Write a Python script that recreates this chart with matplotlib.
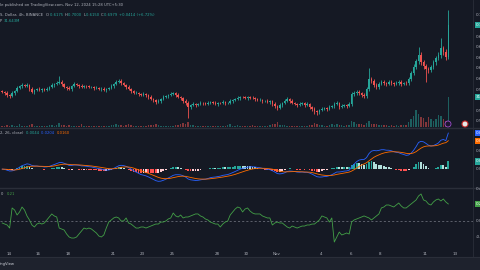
import numpy as np
import pandas as pd
import matplotlib
matplotlib.use('Agg')
import matplotlib.pyplot as plt
import matplotlib.dates as mdates
import matplotlib.transforms as mtrans
from matplotlib.patches import Rectangle, Circle

# ---------------- data ----------------
n_candles = 181
last_bar = '2024-11-12 13:30'
first_open = 0.5770
closes = [
    0.5754, 0.5735, 0.5697, 0.5678, 0.5735, 0.5773, 0.5829, 0.5867, 0.5886, 0.5860, 0.5889,
    0.5811, 0.5754, 0.5792, 0.5815, 0.5788, 0.5811, 0.5785, 0.5818, 0.5848, 0.5886,
    0.5905, 0.5924, 0.5943, 0.5905, 0.5848, 0.5829, 0.5805, 0.5867, 0.5905, 0.5880,
    0.5867, 0.5845, 0.5872, 0.5860, 0.5848, 0.5855, 0.5829, 0.5835, 0.5811, 0.5820,
    0.5792, 0.5811, 0.5829, 0.5867, 0.5905, 0.5943, 0.5962, 0.5924, 0.5886, 0.5848,
    0.5811, 0.5773, 0.5735, 0.5740, 0.5716, 0.5697, 0.5720, 0.5697, 0.5660, 0.5622,
    0.5603, 0.5565, 0.5584, 0.5622, 0.5660, 0.5678, 0.5697, 0.5716, 0.5735, 0.5697,
    0.5660, 0.5641, 0.5584, 0.5546, 0.5471, 0.5509, 0.5528, 0.5509, 0.5528, 0.5546,
    0.5540, 0.5528, 0.5550, 0.5565, 0.5546, 0.5528, 0.5546, 0.5540, 0.5565, 0.5546,
    0.5550, 0.5584, 0.5603, 0.5622, 0.5641, 0.5660, 0.5655, 0.5641, 0.5660, 0.5650,
    0.5641, 0.5622, 0.5603, 0.5610, 0.5584, 0.5590, 0.5565, 0.5584, 0.5528, 0.5490,
    0.5452, 0.5509, 0.5546, 0.5584, 0.5622, 0.5584, 0.5546, 0.5528, 0.5509, 0.5528,
    0.5546, 0.5509, 0.5528, 0.5471, 0.5433, 0.5395, 0.5377, 0.5414, 0.5433, 0.5452,
    0.5433, 0.5471, 0.5490, 0.5528, 0.5546, 0.5471, 0.5490, 0.5509, 0.5490, 0.5528,
    0.5716, 0.5735, 0.5754, 0.5735, 0.5697, 0.5678, 0.5811, 0.5999, 0.5962, 0.5886,
    0.5848, 0.5905, 0.5943, 0.5924, 0.5905, 0.5943, 0.5924, 0.5905, 0.5924, 0.5943,
    0.5905, 0.5924, 0.5915, 0.5999, 0.6112, 0.6226, 0.6339, 0.6452, 0.6320, 0.6245,
    0.6188, 0.6169, 0.6226, 0.6320, 0.6396, 0.6452, 0.6584, 0.6509, 0.6414, 0.7018,
]
upper_wick = [
    0.003, 0.002, 0.003, 0.002, 0.003, 0.002, 0.003, 0.002, 0.003, 0.002, 0.003,
    0.002, 0.003, 0.002, 0.002, 0.003, 0.002, 0.002, 0.003, 0.002, 0.003,
    0.002, 0.003, 0.011, 0.003, 0.002, 0.002, 0.003, 0.002, 0.003, 0.002,
    0.002, 0.003, 0.002, 0.002, 0.003, 0.002, 0.002, 0.003, 0.002, 0.002,
    0.003, 0.002, 0.002, 0.003, 0.002, 0.003, 0.004, 0.003, 0.002, 0.002,
    0.003, 0.002, 0.002, 0.003, 0.002, 0.002, 0.003, 0.002, 0.002, 0.003,
    0.002, 0.002, 0.003, 0.002, 0.003, 0.002, 0.002, 0.003, 0.002, 0.002,
    0.003, 0.002, 0.002, 0.003, 0.003, 0.002, 0.003, 0.002, 0.002, 0.003,
    0.002, 0.002, 0.003, 0.002, 0.002, 0.003, 0.002, 0.002, 0.003, 0.002,
    0.002, 0.003, 0.002, 0.002, 0.003, 0.002, 0.002, 0.003, 0.002, 0.002,
    0.003, 0.002, 0.002, 0.003, 0.002, 0.002, 0.003, 0.002, 0.002, 0.003,
    0.002, 0.003, 0.002, 0.003, 0.004, 0.002, 0.003, 0.002, 0.002, 0.003,
    0.002, 0.002, 0.003, 0.002, 0.002, 0.003, 0.002, 0.002, 0.003, 0.002,
    0.002, 0.003, 0.002, 0.003, 0.004, 0.002, 0.003, 0.002, 0.002, 0.003,
    0.004, 0.003, 0.004, 0.003, 0.002, 0.003, 0.004, 0.021, 0.004, 0.003,
    0.003, 0.004, 0.003, 0.003, 0.002, 0.003, 0.003, 0.002, 0.003, 0.003,
    0.003, 0.002, 0.003, 0.004, 0.004, 0.005, 0.004, 0.015, 0.005, 0.004,
    0.004, 0.004, 0.003, 0.004, 0.004, 0.005, 0.019, 0.004, 0.005, 0.028,
]
lower_wick = [
    0.002, 0.003, 0.003, 0.004, 0.002, 0.003, 0.002, 0.002, 0.003, 0.002, 0.002,
    0.003, 0.002, 0.003, 0.002, 0.002, 0.003, 0.002, 0.002, 0.003, 0.002,
    0.003, 0.002, 0.002, 0.003, 0.002, 0.003, 0.002, 0.003, 0.002, 0.002,
    0.003, 0.002, 0.002, 0.003, 0.002, 0.002, 0.003, 0.002, 0.002, 0.003,
    0.002, 0.003, 0.002, 0.002, 0.003, 0.002, 0.002, 0.003, 0.002, 0.003,
    0.002, 0.003, 0.002, 0.002, 0.003, 0.002, 0.002, 0.003, 0.003, 0.002,
    0.003, 0.004, 0.002, 0.003, 0.002, 0.002, 0.003, 0.002, 0.002, 0.003,
    0.002, 0.003, 0.003, 0.004, 0.021, 0.003, 0.002, 0.003, 0.002, 0.002,
    0.003, 0.002, 0.002, 0.003, 0.002, 0.002, 0.003, 0.002, 0.002, 0.003,
    0.002, 0.002, 0.003, 0.002, 0.002, 0.003, 0.002, 0.002, 0.003, 0.002,
    0.002, 0.003, 0.002, 0.002, 0.003, 0.002, 0.002, 0.003, 0.003, 0.003,
    0.004, 0.002, 0.003, 0.002, 0.002, 0.003, 0.002, 0.002, 0.003, 0.002,
    0.002, 0.003, 0.002, 0.003, 0.003, 0.005, 0.005, 0.003, 0.002, 0.002,
    0.003, 0.002, 0.002, 0.003, 0.002, 0.003, 0.002, 0.002, 0.003, 0.002,
    0.003, 0.003, 0.004, 0.003, 0.003, 0.004, 0.003, 0.004, 0.003, 0.004,
    0.003, 0.003, 0.002, 0.003, 0.003, 0.002, 0.003, 0.003, 0.002, 0.003,
    0.003, 0.002, 0.003, 0.003, 0.004, 0.004, 0.004, 0.005, 0.005, 0.006,
    0.025, 0.005, 0.004, 0.004, 0.005, 0.004, 0.005, 0.006, 0.005, 0.004,
]
volumes_m = [
    1.5, 1, 2, 1.5, 2.5, 1, 1.5, 3, 1, 1.5, 1,
    2, 3, 1, 1, 1.5, 1, 1, 1.5, 2, 2,
    1.5, 2, 4.5, 2.5, 2, 1.5, 2, 1.5, 1, 1.5,
    1.5, 3, 1, 1, 1, 1.5, 1, 1, 1, 1.5,
    1, 1, 1.5, 2, 2.5, 3.5, 2, 2, 1.5, 2.5,
    3, 2, 1.5, 1, 1, 1.5, 1, 1.5, 2, 2.5,
    2, 3.5, 2, 1.5, 1.5, 1, 1, 1.5, 1, 2,
    2.5, 3, 4, 3.5, 5, 2.5, 2, 1.5, 1.5, 1,
    1, 1, 1.5, 1, 1, 1.5, 1, 1, 1, 1,
    2, 3, 1.5, 1.5, 2, 1.5, 1.5, 1, 1, 1.5,
    2, 1.5, 1, 1, 1.5, 1, 1.5, 2, 3, 3.5,
    5, 2.5, 2, 2, 1.5, 1.5, 1.5, 1, 1, 1.5,
    1, 1.5, 1, 2, 2.5, 4, 3, 2, 2, 1.5,
    1.5, 2, 3, 2.5, 3, 2, 2, 1.5, 2, 2,
    6, 5, 3.5, 3, 3.5, 2.5, 4, 6, 3, 3.5,
    3, 2.5, 2, 2, 2, 1.5, 2, 1.5, 2, 1.5,
    2, 2.5, 2, 5, 8, 11, 18, 14, 10, 9,
    5, 10, 8, 6, 8, 13, 12, 8, 6, 31.6,
]
cmf = [
    -0.025, -0.038, -0.05, -0.088, 0.163, 0.138, 0.075, 0.113, 0.175, 0.138, 0.063,
    0.013, -0.05, -0.075, -0.038, -0.025, -0.038, -0.025, 0.013, 0.05, 0.088,
    0.063, 0.05, -0.088, -0.1, -0.113, -0.163, -0.2, -0.213, -0.213, -0.2,
    -0.163, -0.125, -0.088, -0.1, -0.088, -0.1, -0.125, -0.15, -0.188, -0.2,
    -0.175, -0.088, -0.013, 0.013, 0.038, 0.05, 0.038, 0.0, 0.0, 0.038,
    -0.025, -0.038, -0.063, -0.088, -0.088, -0.075, -0.075, -0.088, -0.075, -0.063,
    -0.05, -0.038, -0.038, -0.013, -0.013, 0.0, 0.025, 0.038, 0.1, 0.063,
    0.05, 0.075, 0.038, 0.05, 0.05, 0.063, 0.075, 0.088, 0.088, 0.063,
    0.05, 0.025, 0.013, -0.013, -0.025, -0.038, -0.038, -0.075, -0.038, -0.013,
    0.0, 0.075, 0.113, 0.15, 0.175, 0.163, 0.113, 0.15, 0.163, 0.125,
    0.1, 0.088, 0.088, 0.088, 0.063, 0.05, 0.038, 0.038, -0.05, -0.025,
    -0.013, -0.025, -0.025, -0.05, -0.075, -0.088, -0.063, -0.075, -0.088, -0.075,
    -0.063, -0.063, -0.05, -0.05, -0.038, -0.038, -0.013, 0.013, 0.063, 0.05,
    0.038, -0.013, 0.038, -0.263, -0.2, -0.138, -0.175, -0.163, -0.15, -0.163,
    -0.013, 0.013, 0.025, 0.038, 0.05, 0.063, 0.05, 0.038, 0.013, 0.038,
    0.063, 0.088, 0.163, 0.175, 0.2, 0.2, 0.188, 0.175, 0.2, 0.225,
    0.188, 0.163, 0.163, 0.188, 0.213, 0.238, 0.263, 0.313, 0.338, 0.263,
    0.25, 0.213, 0.2, 0.238, 0.263, 0.275, 0.25, 0.275, 0.238, 0.213,
]
tick_dates = ['2024-10-14', '2024-10-16', '2024-10-18', '2024-10-21', '2024-10-23',
              '2024-10-25', '2024-10-28', '2024-10-30', '2024-11-01', '2024-11-04',
              '2024-11-06', '2024-11-08', '2024-11-11', '2024-11-13']
tick_labels = ['14', '16', '18', '21', '23', '25', '28', '30', 'Nov', '4', '6', '8', '11', '13']
price_ticks = [0.72, 0.68, 0.66, 0.64, 0.62, 0.60, 0.58, 0.54, 0.52]
macd_ticks = [0.0100, 0.0000]
cmf_ticks = [0.40, 0.00, -0.20]
header1 = 'le published on TradingView.com, Nov 12, 2024 15:28 UTC+5:30'
header2_name = 'S, Dollar, 4h, BINANCE'
ohlc_hdr = [('O', '0.6175'), ('H', '0.7000'), ('L', '0.6150'), ('C', '0.6979')]
chg_hdr = '+0.0414 (+6.72%)'
vol_hdr = ('P', '31.643M')
macd_hdr = ('2, 26, close)', ['0.0044', '0.0204', '0.0160'])
cmf_hdr = ('0', '0.21')

# ---------------- derived ----------------
closes = np.array(closes)
opens = np.concatenate([[first_open], closes[:-1]])
highs = np.maximum(opens, closes) + np.array(upper_wick)
lows = np.minimum(opens, closes) - np.array(lower_wick)
vols = np.array(volumes_m)
times = pd.date_range(end=last_bar, periods=n_candles, freq='4h')
xn = mdates.date2num(times)
cs = pd.Series(closes)
macd = cs.ewm(span=12, adjust=False).mean() - cs.ewm(span=26, adjust=False).mean()
signal = macd.ewm(span=9, adjust=False).mean()
hist = (macd - signal).values
macd = macd.values
signal = signal.values

# ---------------- style ----------------
BG = '#151924'
SEP = '#2a2e39'
TXT = '#b2b5be'
UP = '#26a69a'
DN = '#ef5350'
W, H = 480, 270
plt.rcParams['font.family'] = ['DejaVu Sans']

fig = plt.figure(figsize=(4.8, 2.7), dpi=100)
fig.patch.set_facecolor(BG)

def ax_px(x0, y0, x1, y1, z=1):
    a = fig.add_axes([x0 / W, 1 - y1 / H, (x1 - x0) / W, (y1 - y0) / H])
    a.set_zorder(z)
    a.patch.set_alpha(0)
    for s in a.spines.values():
        s.set_visible(False)
    a.tick_params(left=False, bottom=False, labelleft=False, labelbottom=False)
    return a

CR = 473
px_day = 14.87
x_left = xn[-1] - 448.3 / px_day
x_right = x_left + CR / px_day

axv = ax_px(0, 0, CR, 127, 1)
ax = ax_px(0, 0, CR, 127, 2)
axm = ax_px(0, 129, CR, 188, 2)
axc = ax_px(0, 189, CR, 247, 2)
for a in (axv, ax, axm, axc):
    a.set_xlim(x_left, x_right)

ax.set_ylim(0.5094, 0.749)
axv.set_ylim(0, 133)
axm.set_ylim(-0.0104, 0.0221)
axc.set_ylim(-0.325, 0.40)

bw = 4 / 24 * 0.6
up = closes >= opens
col = np.where(up, UP, DN)
vcol = np.where(up, '#26a69a80', '#ef535080')
axv.bar(xn, vols, width=bw, color=vcol, linewidth=0)
ax.vlines(xn, lows, highs, colors=col, linewidth=0.6)
body_h = np.maximum(np.abs(closes - opens), 0.0006)
ax.bar(xn, body_h, width=bw, bottom=np.minimum(opens, closes), color=col, linewidth=0)

hcol = []
for i, h in enumerate(hist):
    prev = hist[i - 1] if i > 0 else 0
    if h >= 0:
        hcol.append('#26a69a' if h >= prev else '#b2dfdb')
    else:
        hcol.append('#ff5252' if h < prev else '#ffcdd2')
axm.bar(xn, hist, width=4 / 24 * 0.75, color=hcol, linewidth=0)
axm.plot(xn, macd, color='#2962ff', lw=0.6)
axm.plot(xn, signal, color='#ff6d00', lw=0.6)

axc.axhline(0, color='#787b86', lw=0.5, ls=(0, (3, 3)))
axc.plot(xn, cmf, color='#43a047', lw=0.6)

FS = 2.7
tk = mdates.date2num(pd.to_datetime(tick_dates))
axc.set_xticks(tk)
axc.set_xticklabels(tick_labels)
axc.tick_params(bottom=False, labelbottom=True, labelsize=FS + 0.2, labelcolor=TXT, pad=0)

ov = fig.add_axes([0, 0, 1, 1])
ov.set_zorder(10)
ov.patch.set_alpha(0)
ov.set_xlim(0, W)
ov.set_ylim(H, 0)
ov.axis('off')
for y in (128, 188):
    ov.plot([0, W], [y, y], color=SEP, lw=1)
ov.plot([CR, CR], [0, 257], color=SEP, lw=0.6)
ov.add_patch(Rectangle((0, 257), W, 13, color='#1e222d', lw=0))
ov.plot([0, W], [257, 257], color=SEP, lw=0.8)
ov.text(0, 264, 'ingView', color='#d1d4dc', fontsize=FS, va='center', ha='left')

renderer = fig.canvas.get_renderer()

def seq_text(x, y, pieces, gap=0.0):
    for s, c in pieces:
        t = ov.text(x, y, s, color=c, fontsize=FS, va='center', ha='left')
        x += t.get_window_extent(renderer=renderer).width + gap
    return x

ov.text(0, 5, header1, color=TXT, fontsize=FS, va='center')
pieces = [(header2_name + '  ', TXT)]
for k, v in ohlc_hdr:
    pieces += [(k, TXT), (v + ' ', UP)]
pieces += [(chg_hdr, UP)]
seq_text(0, 15, pieces, gap=0.6)
seq_text(0, 21.5, [(vol_hdr[0] + ' ', TXT), (vol_hdr[1], UP)], gap=0.6)
seq_text(0, 133, [(macd_hdr[0] + ' ', TXT), (macd_hdr[1][0] + ' ', UP),
                  (macd_hdr[1][1] + ' ', '#2962ff'), (macd_hdr[1][2], '#ff6d00')], gap=1.0)
seq_text(1, 194, [(cmf_hdr[0] + ' ', TXT), (cmf_hdr[1], '#43a047')], gap=2.0)

def rlabel(axis, val, text, color=TXT, box=None):
    tr = mtrans.blended_transform_factory(fig.transFigure, axis.transData)
    kw = dict(color=color if box is None else 'white', fontsize=FS + 0.3, va='center', ha='left',
              transform=tr, clip_on=False, zorder=20)
    if box is not None:
        kw['bbox'] = dict(boxstyle='square,pad=0.3', fc=box, ec='none')
    fig.text(476 / W, val, text, **kw)

for p in price_ticks:
    rlabel(ax, p, f'{p:.4f}')
rlabel(ax, closes[-1], f'{closes[-1]:.4f}', box=UP)
rlabel(axv, 31.6, '31.64M', box=UP)
for m in macd_ticks:
    rlabel(axm, m, f'{m:.4f}')
rlabel(axm, macd[-1], f'{macd[-1]:.4f}', box='#2962ff')
rlabel(axm, signal[-1], f'{signal[-1]:.4f}', box='#ff6d00')
rlabel(axm, hist[-1], f'{hist[-1]:.4f}', box=UP)
for c in cmf_ticks:
    rlabel(axc, c, f'{c:.2f}')
rlabel(axc, cmf[-1], f'{cmf[-1]:.2f}', box='#43a047')

ov.add_patch(Circle((448, 124), 3, fc='#1e1530', ec='#9c4dcc', lw=0.6))
ov.add_patch(Circle((465, 124), 3, fc='#e8e8e8', ec='#c62828', lw=0.8))

fig.savefig('out.png', dpi=100, facecolor=BG)
